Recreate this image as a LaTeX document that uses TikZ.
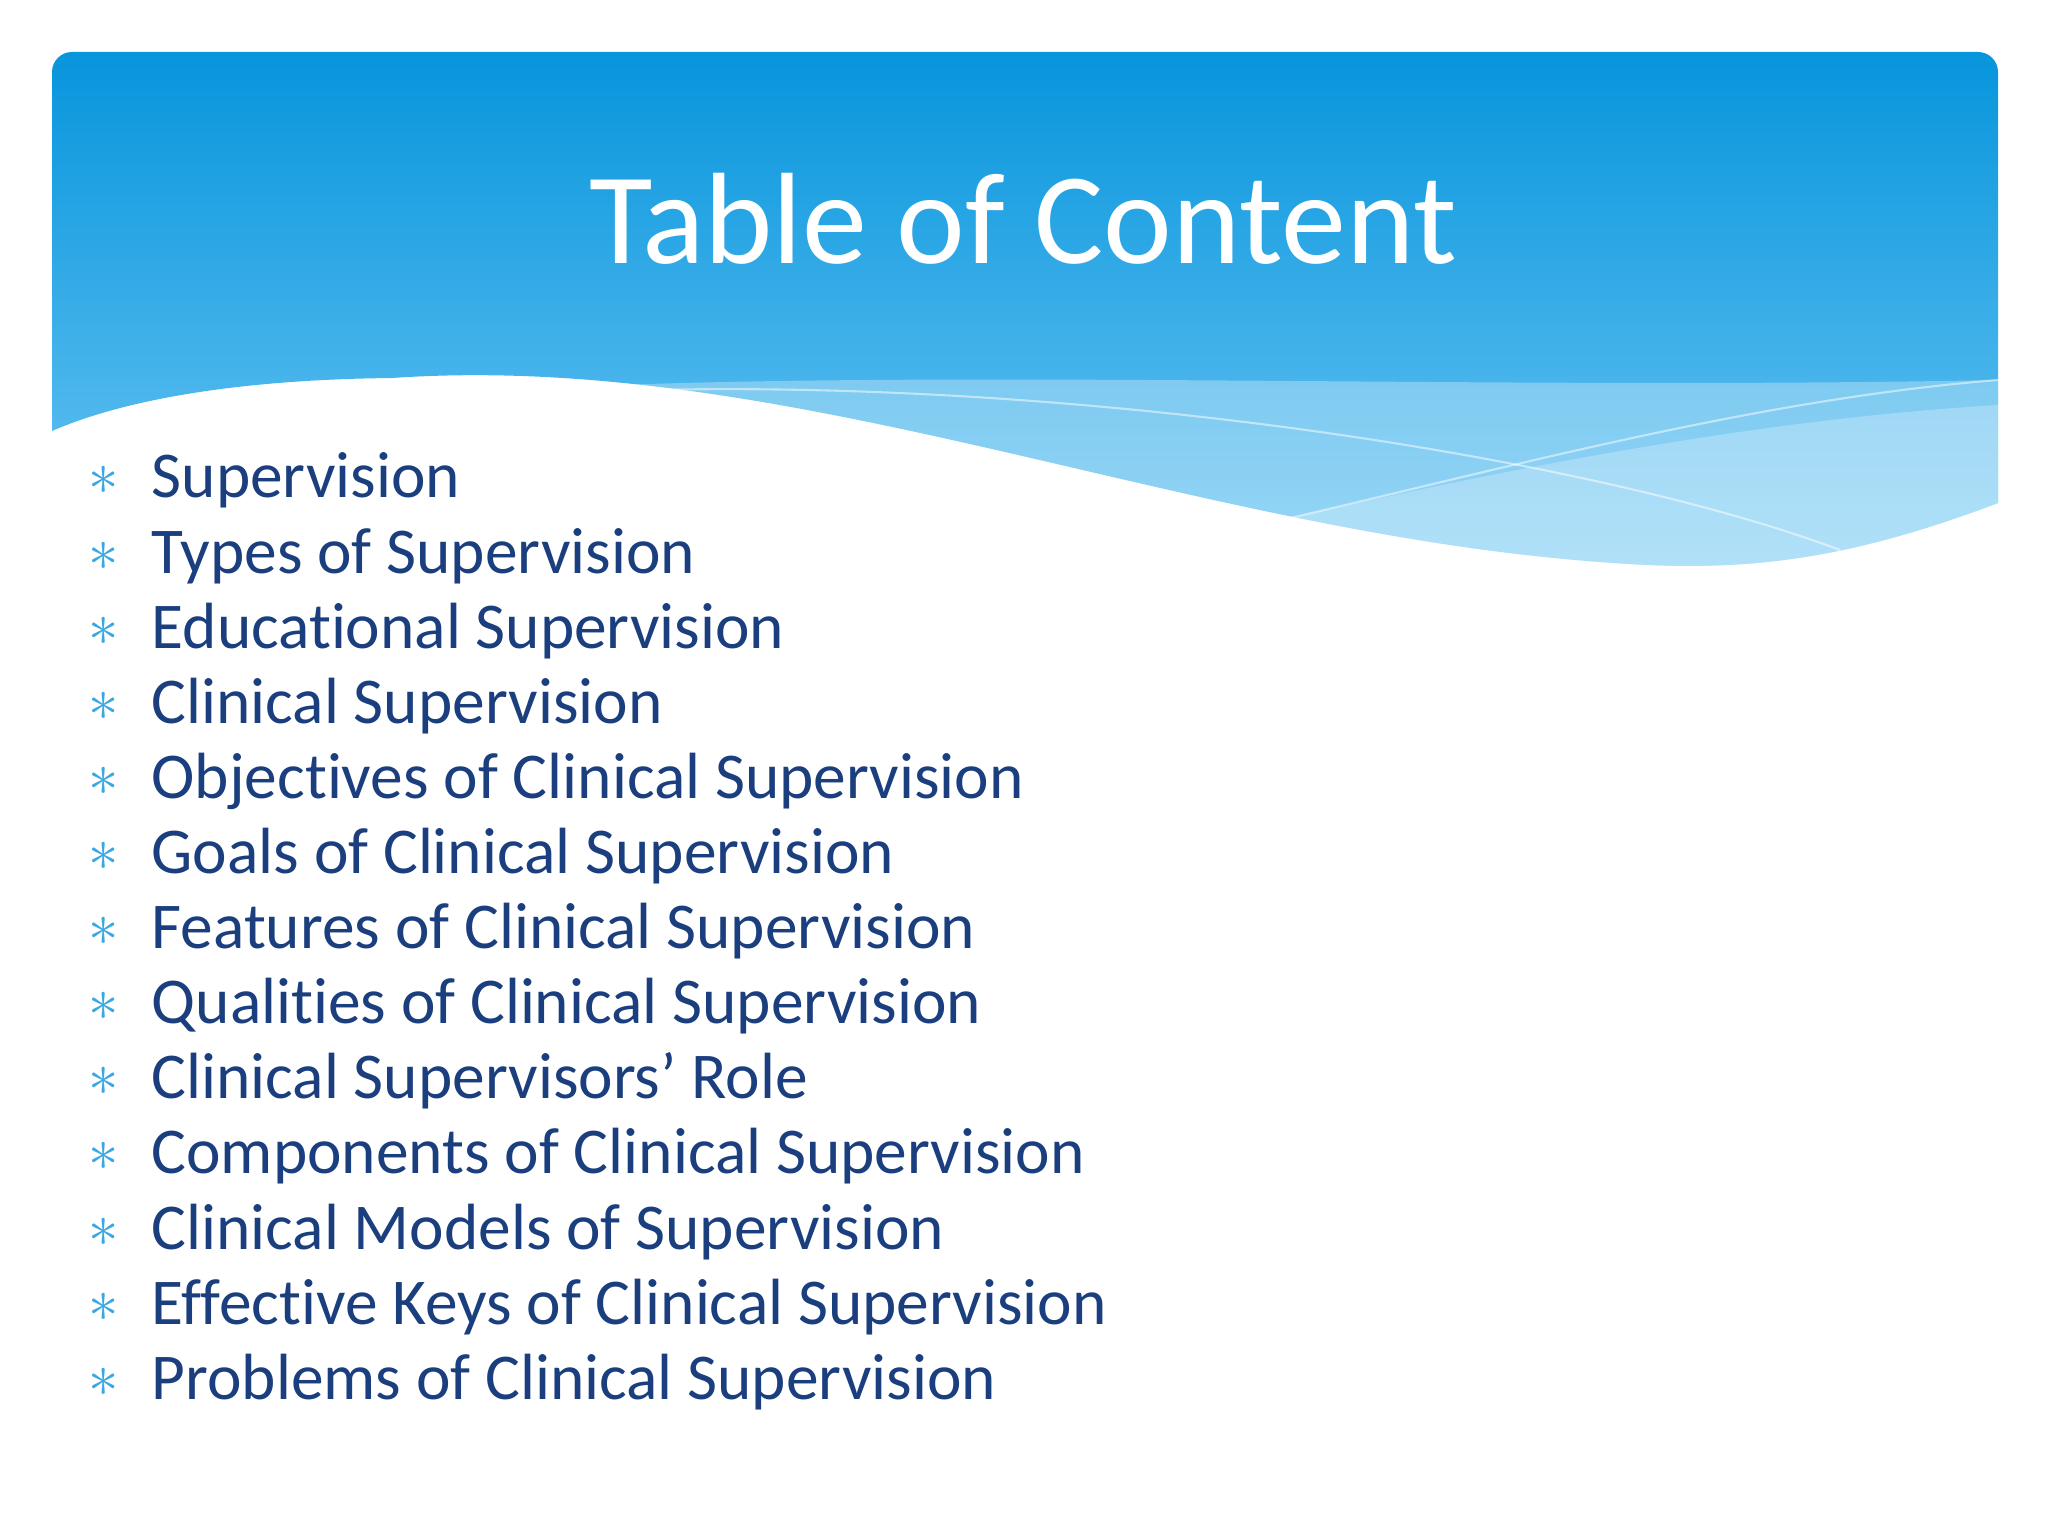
\documentclass[tikz,border=0pt]{standalone}
\usepackage{fontspec}
\setmainfont[Ligatures=NoCommon]{Carlito}
\definecolor{navy}{HTML}{1B3F7E}
\definecolor{bul}{HTML}{3AA8E0}
\definecolor{topb}{HTML}{0795DC}
\definecolor{botb}{HTML}{6CC6F4}
\begin{document}
\begin{tikzpicture}
\useasboundingbox (0,0) rectangle (20.48,-15.36);
\fill[white] (0,0) rectangle (20.48,-15.36);
\tikzset{item/.style={anchor=base west,text=navy,font=\fontsize{18.6}{20}\selectfont,inner sep=0pt},
bullet/.style={anchor=base,text=bul,font=\fontsize{18}{20}\selectfont,inner sep=0pt}}
% header
\shade[top color=topb,bottom color=botb]
 (0.52,-4.31) -- (0.52,-0.72) arc[start angle=180,end angle=90,radius=0.2] -- (19.78,-0.52) arc[start angle=90,end angle=0,radius=0.2] -- (19.98,-5.03)
 .. controls (18.6,-5.55) and (17.6,-5.72) .. (16.3,-5.64)
 .. controls (12,-5.4) and (8,-3.5) .. (3.92,-3.78)
 .. controls (2,-3.8) and (1,-4.1) .. (0.52,-4.31) -- cycle;
\fill[white,opacity=0.3] (5.9,-3.86) .. controls (10,-3.7) and (15,-3.9) .. (19.98,-3.8) -- (19.98,-5.03)
 .. controls (18.6,-5.55) and (17.6,-5.72) .. (16.3,-5.64)
 .. controls (12,-5.4) and (9,-4.2) .. (5.9,-3.86) -- cycle;
\fill[white,opacity=0.25] (12.6,-5.25) .. controls (15,-4.7) and (17.5,-4.2) .. (19.98,-4.05) -- (19.98,-5.03)
 .. controls (18.6,-5.55) and (17.6,-5.72) .. (16.3,-5.64) .. controls (15,-5.58) and (13.8,-5.45) .. (12.6,-5.25) -- cycle;
\draw[white,opacity=0.5,line width=0.6pt] (6.5,-3.9) .. controls (11,-3.8) and (16,-4.6) .. (18.4,-5.5);
\draw[white,opacity=0.5,line width=0.6pt] (12.6,-5.25) .. controls (15,-4.7) and (17.5,-4.0) .. (19.98,-3.8);
\node[text=white,font=\fontsize{37}{40}\selectfont,inner sep=0pt] (title) at (10.23,-2.19) {Table of Content};
% items
\foreach \t [count=\i] in {Supervision,Types of Supervision,Educational Supervision,Clinical Supervision,Objectives of Clinical Supervision,Goals of Clinical Supervision,Features of Clinical Supervision,Qualities of Clinical Supervision,Clinical Supervisors’ Role,Components of Clinical Supervision,Clinical Models of Supervision,Effective Keys of Clinical Supervision,Problems of Clinical Supervision}{
 \pgfmathsetmacro\yy{-4.98-0.751*(\i-1)}
 \node[bullet] (b\i) at (1.04,\yy+0.03) {$\ast$};
 \node[item] (t\i) at (1.51,\yy) {\t};
}
\end{tikzpicture}
\end{document}
